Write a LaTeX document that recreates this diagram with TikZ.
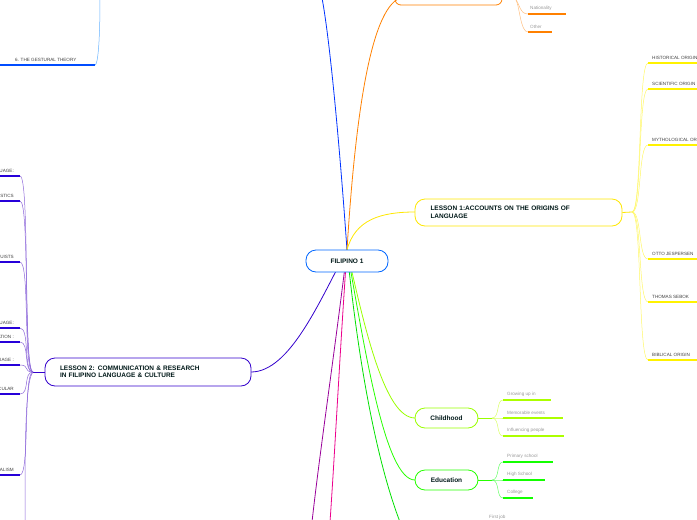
\documentclass[tikz,border=0pt]{standalone}
\usepackage{fontspec}
\setmainfont{Liberation Sans}
\begin{document}
\begin{tikzpicture}[x=1pt,y=-1pt,
  main/.style={draw=#1,rounded corners=10pt,line width=0.8pt,fill=white,font=\bfseries\fontsize{6.5}{7.5}\selectfont,text=black!80!teal,align=left},
  leaf/.style={font=\fontsize{4.6}{5}\selectfont,text=black!75,anchor=south west,inner sep=1pt},
  gleaf/.style={font=\fontsize{4.6}{5}\selectfont,text=black!40,anchor=south west,inner sep=1pt},
  rleaf/.style={font=\fontsize{4.6}{5}\selectfont,text=black!75,anchor=south east,inner sep=1pt},
  ul/.style={draw=#1,line width=1.2pt},
  br/.style={draw=#1,line width=0.5pt}]
\useasboundingbox (0,0) rectangle (697,520);
\clip (0,0) rectangle (697,520);
\coordinate (c) at (347,250);
\coordinate (tb) at (322,-2);
\coordinate (to) at (400,-2);
\coordinate (bg) at (400,522);
\coordinate (bm) at (330,522);
\coordinate (bp) at (312,522);
\draw[line width=0.8pt,blue!80!cyan] (c) .. controls (340,150) and (330,40) .. (tb);
\draw[line width=0.8pt,orange] (c) .. controls (355,120) and (370,10) .. (to);
\draw[line width=0.8pt,yellow!90!orange] (c) .. controls (355,220) and (380,212) .. (415,212);
\draw[line width=0.8pt,lime!80!green] (c) .. controls (365,330) and (385,418) .. (415,418);
\draw[line width=0.8pt,green!80!lime] (c) .. controls (365,350) and (385,480) .. (415,480);
\draw[line width=0.8pt,green!80!black!60!green] (c) .. controls (360,380) and (380,470) .. (bg);
\draw[line width=0.8pt,magenta] (c) .. controls (340,350) and (335,450) .. (bm);
\draw[line width=0.8pt,violet!80!magenta] (c) .. controls (335,350) and (320,450) .. (bp);
\draw[line width=0.8pt,blue!60!violet] (c) .. controls (320,300) and (290,372) .. (251,372);
\node[main=blue!60!cyan,minimum width=82pt,minimum height=22pt,align=center] (f) at (347,261) {FILIPINO 1};
\node[main=yellow!90!orange,minimum width=207pt,minimum height=27pt,text width=176pt] (l1) at (518.5,212.5) {LESSON 1:ACCOUNTS ON THE ORIGINS OF\\LANGUAGE};
\node[main=blue!60!violet,minimum width=206pt,minimum height=28pt,text width=176pt] (l2) at (148,372) {LESSON 2: COMMUNICATION \& RESEARCH\\IN FILIPINO LANGUAGE \& CULTURE};
\node[main=lime!80!green,minimum width=63pt,minimum height=20pt,align=center] (ch) at (446.5,418) {Childhood};
\node[main=green!80!lime,minimum width=63pt,minimum height=20pt,align=center] (ed) at (446.5,480) {Education};
\draw[orange,line width=0.8pt,rounded corners=6pt] (395,-10) -- (395,5) -- (502,5) -- (502,-10);
\draw[yellow!90!orange,line width=0.8pt] (l1.east) -- (632,212);
\foreach \y/\t in {63/HISTORICAL ORIGIN,89/SCIENTIFIC ORIGIN,145/MYTHOLOGICAL ORIGIN,259/OTTO JESPERSEN,302/THOMAS SEBOK,360/BIBLICAL ORIGIN}{
  \draw[br=yellow!60] (632,212) .. controls (642,212) and (638,\y) .. (648,\y);
  \draw[ul=yellow] (648,\y) -- (700,\y);
  \node[leaf] at (651,\y-2) {\t};}
\draw[blue!60!violet,line width=0.8pt] (l2.west) -- (33,372);
\foreach \y/\t in {176/LANGUAGE:,201/LINGUISTICS,262/LINGUISTS,328/LANGUAGE:,342/COMMUNICATION :,365/LANGUAGE :,394/VERNACULAR,475/NATIONALISM}{
  \draw[br=blue!50!violet!60] (33,372) .. controls (23,372) and (30,\y) .. (20,\y);
  \draw[ul=blue!70!violet] (20,\y) -- (-5,\y);
  \node[rleaf] at (15,\y-2) {\t};}
\draw[br=blue!50!violet!60] (33,372) .. controls (25,380) and (25,450) .. (25,522);
\draw[br=blue!50!cyan!60] (100,-2) .. controls (100,40) and (98,65) .. (95,65);
\draw[ul=blue!70!cyan] (95,65) -- (-5,65);
\node[leaf] at (14,63) {6. THE GESTURAL THEORY};
\foreach \y/\t/\w in {14/Nationality/38,32/Other/24}{
  \draw[br=orange!50] (515,-2) .. controls (520,5) and (520,\y) .. (528,\y);
  \draw[ul=orange] (528,\y) -- (528+\w,\y);
  \node[gleaf] at (529,\y-2) {\t};}
\draw[lime!80!green,line width=0.8pt] (ch.east) -- (492,418);
\foreach \y/\t/\w in {400/Growing up in/48,418/Memorable events/60,436/Influencing people/61}{
  \draw[br=lime!60] (492,418) .. controls (500,418) and (496,\y) .. (503,\y);
  \draw[ul=lime!90!green] (503,\y) -- (503+\w,\y);
  \node[gleaf] at (506,\y-2) {\t};}
\draw[green!80!lime,line width=0.8pt] (ed.east) -- (492,480);
\foreach \y/\t/\w in {462/Primary school/50,480/High School/42,498/College/30}{
  \draw[br=green!60] (492,480) .. controls (500,480) and (496,\y) .. (503,\y);
  \draw[ul=green!90!lime] (503,\y) -- (503+\w,\y);
  \node[gleaf] at (506,\y-2) {\t};}
\node[gleaf] at (488,521) {First job};
\end{tikzpicture}
\end{document}
